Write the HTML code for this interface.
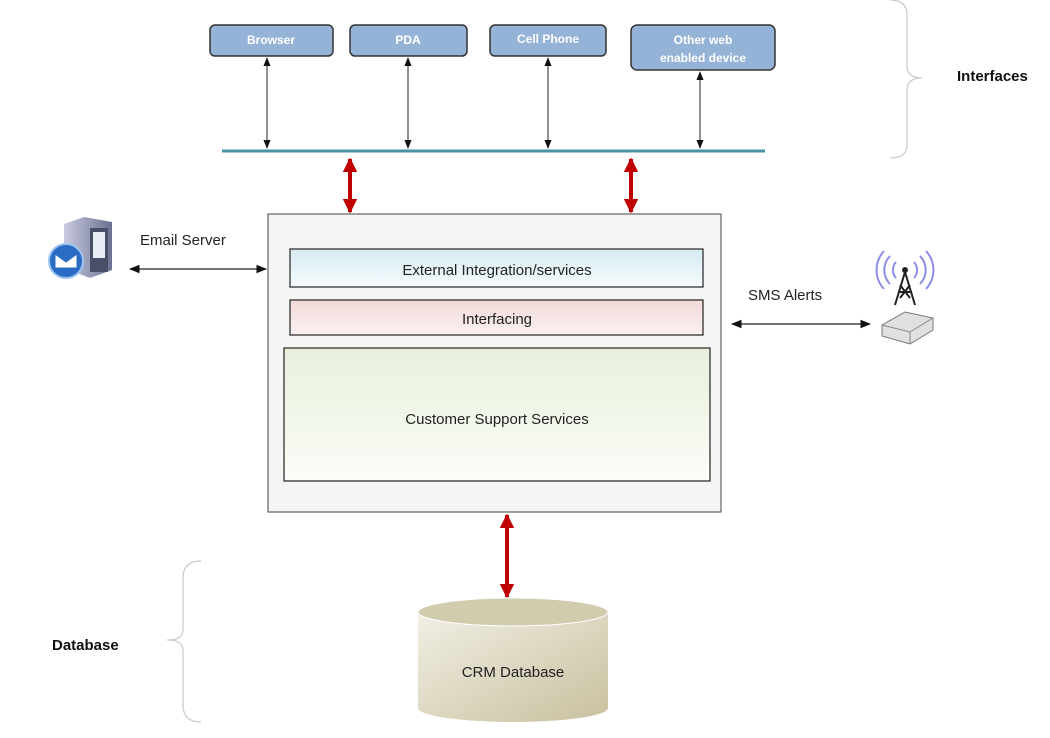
<!DOCTYPE html>
<html><head><meta charset="utf-8"><style>
html,body{margin:0;padding:0;background:#fff;}
svg{display:block;font-family:"Liberation Sans",sans-serif;}
</style></head><body>
<svg width="1050" height="738" viewBox="0 0 1050 738" xmlns="http://www.w3.org/2000/svg">
<defs>
<marker id="ab" viewBox="0 0 10 10" refX="9" refY="5" markerWidth="9" markerHeight="9" orient="auto-start-reverse"><path d="M0,1 L10,5 L0,9 z" fill="#111"/></marker>
<marker id="ar" viewBox="0 0 10 10" refX="9" refY="5" markerWidth="3.6" markerHeight="4.2" orient="auto-start-reverse"><path d="M0,0 L10,5 L0,10 z" fill="#c00000"/></marker>
<linearGradient id="gb" x1="0" y1="0" x2="0" y2="1"><stop offset="0" stop-color="#d6ebf2"/><stop offset="1" stop-color="#f5fbfd"/></linearGradient>
<linearGradient id="gp" x1="0" y1="0" x2="0" y2="1"><stop offset="0" stop-color="#f2d9d9"/><stop offset="1" stop-color="#faf0f0"/></linearGradient>
<linearGradient id="gg" x1="0" y1="0" x2="0" y2="1"><stop offset="0" stop-color="#e8f0dc"/><stop offset="1" stop-color="#fbfdf8"/></linearGradient>
<linearGradient id="gc" x1="0" y1="0" x2="1" y2="1"><stop offset="0" stop-color="#f2efe4"/><stop offset="1" stop-color="#c8c09e"/></linearGradient>
<linearGradient id="gs" x1="0" y1="0" x2="1" y2="0"><stop offset="0" stop-color="#c8cbe0"/><stop offset="1" stop-color="#6c7090"/></linearGradient>
</defs>
<g stroke="#333" stroke-width="1.5" fill="#95b3d7">
<rect x="210" y="25" width="123" height="31" rx="5"/>
<rect x="350" y="25" width="117" height="31" rx="5"/>
<rect x="490" y="25" width="116" height="31" rx="5"/>
<rect x="631" y="25" width="144" height="45" rx="6"/>
</g>
<g fill="#fff" font-size="12" font-weight="bold" text-anchor="middle">
<text x="271" y="44">Browser</text>
<text x="408" y="44">PDA</text>
<text x="548" y="43">Cell Phone</text>
<text x="703" y="44">Other web</text>
<text x="703" y="62">enabled device</text>
</g>
<g stroke="#222" stroke-width="1">
<line x1="267" y1="58" x2="267" y2="148" marker-start="url(#ab)" marker-end="url(#ab)"/>
<line x1="408" y1="58" x2="408" y2="148" marker-start="url(#ab)" marker-end="url(#ab)"/>
<line x1="548" y1="58" x2="548" y2="148" marker-start="url(#ab)" marker-end="url(#ab)"/>
<line x1="700" y1="72" x2="700" y2="148" marker-start="url(#ab)" marker-end="url(#ab)"/>
</g>
<line x1="222" y1="151" x2="765" y2="151" stroke="#4a93a6" stroke-width="3"/>
<g stroke="#c00000" stroke-width="4">
<line x1="350" y1="159" x2="350" y2="212" marker-start="url(#ar)" marker-end="url(#ar)"/>
<line x1="631" y1="159" x2="631" y2="212" marker-start="url(#ar)" marker-end="url(#ar)"/>
<line x1="507" y1="515" x2="507" y2="597" marker-start="url(#ar)" marker-end="url(#ar)"/>
</g>
<rect x="268" y="214" width="453" height="298" fill="#f5f5f5" stroke="#444" stroke-width="1"/>
<rect x="290" y="249" width="413" height="38" fill="url(#gb)" stroke="#222" stroke-width="1.2"/>
<rect x="290" y="300" width="413" height="35" fill="url(#gp)" stroke="#222" stroke-width="1.2"/>
<rect x="284" y="348" width="426" height="133" fill="url(#gg)" stroke="#222" stroke-width="1.2"/>
<g font-size="15" fill="#222" text-anchor="middle">
<text x="497" y="275">External Integration/services</text>
<text x="497" y="324">Interfacing</text>
<text x="497" y="424">Customer Support Services</text>
</g>
<line x1="130" y1="269" x2="266" y2="269" stroke="#222" stroke-width="1.2" marker-start="url(#ab)" marker-end="url(#ab)"/>
<text x="140" y="245" font-size="15" fill="#222">Email Server</text>
<path d="M64,224 L84,217 L112,222 L112,270 L90,278 L64,268 z" fill="url(#gs)"/>
<rect x="90" y="228" width="18" height="44" fill="#4a4e68"/>
<rect x="93" y="232" width="12" height="26" fill="#e8ecf4"/>
<circle cx="66" cy="261" r="17" fill="#2a6cc4" stroke="#9cc4f0" stroke-width="2"/>
<path d="M55,254 L77,254 L77,268 L55,268 z M55,254 L66,262 L77,254" fill="#fff" stroke="#2a6cc4" stroke-width="1"/>
<line x1="732" y1="324" x2="870" y2="324" stroke="#222" stroke-width="1.2" marker-start="url(#ab)" marker-end="url(#ab)"/>
<text x="748" y="300" font-size="15" fill="#222">SMS Alerts</text>
<g fill="none" stroke="#8d8de8" stroke-width="2">
<path d="M896,262 a12,12 0 0 0 0,16"/><path d="M890,256 a20,20 0 0 0 0,28"/><path d="M884,251 a28,28 0 0 0 0,38"/>
<path d="M914,262 a12,12 0 0 1 0,16"/><path d="M920,256 a20,20 0 0 1 0,28"/><path d="M926,251 a28,28 0 0 1 0,38"/>
</g>
<circle cx="905" cy="270" r="3" fill="#222"/>
<path d="M905,272 L895,305 M905,272 L915,305 M898,292 L912,292 M900,285 L910,298 M910,285 L900,298" stroke="#222" stroke-width="2" fill="none"/>
<path d="M882,325 L905,312 L933,318 L933,330 L910,344 L882,336 z" fill="#e0e0e0" stroke="#777"/>
<path d="M882,325 L910,332 L933,318 M910,332 L910,344" fill="none" stroke="#888"/>
<path d="M418,612 L418,708 A95,14 0 0 0 608,708 L608,612 z" fill="url(#gc)"/>
<ellipse cx="513" cy="612" rx="95" ry="14" fill="#d2ccae" stroke="#fff" stroke-width="1"/>
<text x="513" y="677" font-size="15" fill="#222" text-anchor="middle">CRM Database</text>
<path d="M890,0 Q907,0 907,15 L907,66 Q907,78 922,78 Q907,78 907,90 L907,145 Q907,158 890,158" fill="none" stroke="#ccc" stroke-width="1.3"/>
<text x="957" y="81" font-size="15" font-weight="bold" fill="#111">Interfaces</text>
<path d="M201,561 Q183,561 183,578 L183,630 Q183,640 167,640 Q183,640 183,650 L183,705 Q183,722 201,722" fill="none" stroke="#ccc" stroke-width="1.3"/>
<text x="52" y="650" font-size="15" font-weight="bold" fill="#111">Database</text>
</svg>
</body></html>
